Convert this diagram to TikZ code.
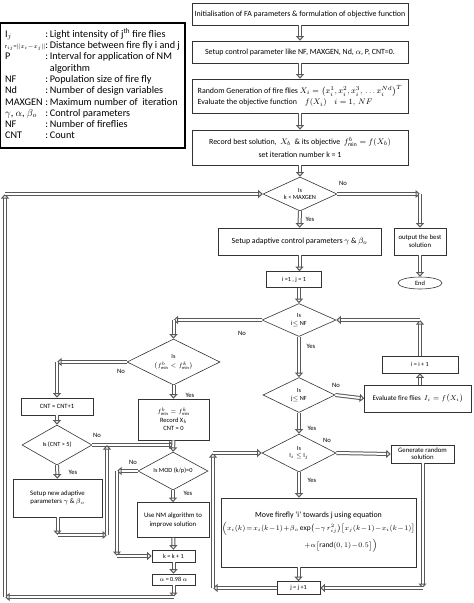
\documentclass[tikz,border=0pt]{standalone}
\usepackage{fontspec}
\setmainfont{Carlito}
\usepackage{amsmath}
\usetikzlibrary{arrows.meta,shapes.geometric,positioning}
\pgfdeclarelayer{edgelayer}
\pgfdeclarelayer{nodelayer}
\pgfsetlayers{nodelayer,main,edgelayer}

\tikzset{
	box/.style={draw=black!80, line width=0.6pt, inner sep=1pt, align=center, font=\fontsize{7.9}{9.2}\selectfont},
	smallbox/.style={box, font=\fontsize{6.2}{7}\selectfont},
	decision/.style={diamond, draw=black!80, line width=0.6pt, inner sep=0pt, align=center, font=\fontsize{6.3}{7.6}\selectfont},
	legend/.style={draw=black, line width=1.2pt, inner sep=2pt, font=\fontsize{10.2}{11.3}\selectfont},
	answer/.style={font=\fontsize{6.6}{7}\selectfont},
	flow/.style={draw=black!65, line width=1pt, double=white, double distance=2pt, -{Triangle[open, length=4.5pt, width=8pt]}}
}

\begin{document}
\begin{tikzpicture}[x=1pt, y=-1pt]
	\useasboundingbox (0,0) rectangle (474,603);
	% bends of the long connectors
	\coordinate (c1) at (420, 194);
	\coordinate (c2) at (173.5, 320);
	\coordinate (c3) at (420, 320);
	\coordinate (c4) at (422.5, 588);
	\coordinate (c5) at (213, 588);
	\coordinate (c6) at (213, 453);
	\coordinate (c7) at (57, 362);
	\coordinate (c8) at (173.5, 445);
	\coordinate (c9) at (57.5, 535);
	\coordinate (c10) at (107, 535);
	\coordinate (c11) at (107, 445);
	\coordinate (c12) at (117, 471);
	\coordinate (c13) at (117, 556);
	\coordinate (c14) at (173.5, 597);
	\coordinate (c15) at (5, 597);
	\coordinate (c16) at (5, 194);
	\begin{pgfonlayer}{nodelayer}
		\node [legend, minimum width=185pt, minimum height=125pt] (key) at (92.5, 85.5) {%
			\begin{tabular}{@{}l@{}l@{\,}l@{}}
				I$_j$ & : & Light intensity of j\textsuperscript{th} fire flies\\
				{\fontsize{6.2}{7}\selectfont\medmuskip=0mu\thickmuskip=0mu r$_{ij}$=$\lVert x_i-x_j\rVert$} & : & Distance between fire fly i and j\\
				P & : & Interval for application of NM\\
				  &   & algorithm\\
				NF & : & Population size of fire fly\\
				Nd & : & Number of design variables\\
				MAXGEN & : & Maximum number of\ \ iteration\\
				$\gamma$, $\alpha$, $\beta_o$ & : & Control parameters\\
				NF & : & Number of fireflies\\
				CNT & : & Count
			\end{tabular}};
		\node [box, minimum width=216pt, minimum height=22pt] (init) at (300, 14) {Initialisation of FA parameters \& formulation of objective function};
		\node [box, minimum width=216pt, minimum height=22pt] (ctrl) at (300, 52) {Setup control parameter like NF, MAXGEN, Nd, $\alpha$, P, CNT=0.};
		\node [box, align=left, minimum width=216pt, minimum height=34pt] (randgen) at (300, 96) {Random Generation of fire flies $X_i=\bigl(x_i^1,x_i^2,x_i^3,\,.\,.\,.\,x_i^{Nd}\bigr)^T$\\[2pt]Evaluate the objective function\quad $f(X_i)\quad i=1,\,NF$};
		\node [box, minimum width=216pt, minimum height=35pt] (record) at (300, 147.5) {Record best solution,\ \ $X_b$\ \ \& its objective\ \ $f^{b}_{\min}=f(X_b)$\\[4pt]set iteration number k = 1};
		\node [decision, aspect=2.2, minimum width=74pt, minimum height=34pt] (maxgen) at (300, 194) {Is\\k < MAXGEN};
		\node [box, minimum width=163pt, minimum height=27pt] (adapt) at (299.5, 241.5) {Setup adaptive control parameters $\gamma$\ \& $\beta_o$};
		\node [box, minimum width=52pt, minimum height=27pt, font=\fontsize{6.8}{8}\selectfont] (best) at (420, 241.5) {output the best\\solution};
		\node [ellipse, draw=black!80, line width=0.6pt, inner sep=0pt, minimum width=44pt, minimum height=12pt, font=\fontsize{6.5}{7}\selectfont] (endn) at (420, 283) {End};
		\node [smallbox, minimum width=55pt, minimum height=16pt] (ij) at (294, 279.5) {i =1 , j = 1};
		\node [decision, aspect=2.2, minimum width=74pt, minimum height=33pt] (inf) at (299, 320) {Is\\i$\leq$ NF};
		\node [decision, aspect=2.1, minimum width=72pt, minimum height=35pt] (jnf) at (299, 395) {Is\\j$\leq$ NF};
		\node [decision, aspect=2, minimum width=74pt, minimum height=38pt] (iij) at (299, 453) {Is\\I$_i\leq$ I$_j$};
		\node [smallbox, minimum width=76pt, minimum height=17pt] (iinc) at (420, 364.5) {i = i + 1};
		\node [box, minimum width=107pt, minimum height=27pt, font=\fontsize{7}{8}\selectfont] (evalf) at (418, 398.5) {Evaluate fire flies\ \ $I_i=f\bigl(X_i\bigr)$};
		\node [box, minimum width=63pt, minimum height=18pt, font=\fontsize{6.8}{7.2}\selectfont] (gen) at (422.5, 454) {Generate random\\solution};
		\node [box, minimum width=193pt, minimum height=69pt] (move) at (318.5, 532.5) {Move firefly ‘i’ towards j using equation\\[2pt]
			{\fontsize{7.4}{9}\selectfont\medmuskip=1mu\thickmuskip=2mu$\Bigl(x_i(k)=x_i(k-1)+\beta_o\exp\bigl(-\gamma\, r_{ij}^2\bigr)\bigl[x_j(k-1)-x_i(k-1)\bigr]$}\\[3pt]
			\hspace*{45pt}{\fontsize{7.4}{9}\selectfont\medmuskip=1mu$+\alpha\bigl[\mathrm{rand}(0,1)-0.5\bigr]\Bigr)$}};
		\node [smallbox, minimum width=43pt, minimum height=13pt] (jinc) at (298.5, 588) {j = j +1};
		\node [decision, aspect=2, minimum width=93pt, minimum height=46pt] (fcmp) at (173.5, 362) {Is\\[2pt]$\bigl(f^{b}_{\min}<f^{k}_{\min}\bigr)$};
		\node [box, minimum width=72pt, minimum height=17pt, font=\fontsize{6.5}{7.5}\selectfont] (cnt) at (57, 406.5) {CNT = CNT+1};
		\node [box, minimum width=71pt, minimum height=41pt, font=\fontsize{6.5}{8.5}\selectfont] (fbest) at (173.5, 419.5) {$f^{b}_{\min}=f^{k}_{\min}$\\Record X$_b$\\CNT = 0};
		\node [decision, aspect=1.75, minimum width=70pt, minimum height=40pt] (cnt5) at (57, 445) {Is (CNT > 5)};
		\node [box, minimum width=89pt, minimum height=38pt, font=\fontsize{6.8}{8.5}\selectfont] (newpar) at (57.5, 498) {Setup new adaptive\\parameters $\gamma$\ \& $\beta_o$};
		\node [decision, aspect=1.84, minimum width=70pt, minimum height=38pt] (mod) at (173, 471) {Is MOD (k/p)=0};
		\node [box, minimum width=72pt, minimum height=35pt, font=\fontsize{6.8}{8.5}\selectfont] (nm) at (173, 520) {Use NM algorithm to\\improve solution};
		\node [smallbox, minimum width=43pt, minimum height=12pt] (kinc) at (173.5, 556) {k = k + 1};
		\node [smallbox, minimum width=43pt, minimum height=11pt] (alpha) at (173.5, 579.5) {$\alpha$ = 0.98 $\alpha$};
		\node [answer] (no1) at (343, 183) {No};
		\node [answer] (yes1) at (310, 219) {Yes};
		\node [answer] (no2) at (242, 333) {No};
		\node [answer] (yes2) at (311, 346) {Yes};
		\node [answer] (no3) at (336, 385) {No};
		\node [answer] (yes3) at (312, 428) {Yes};
		\node [answer] (no4) at (327, 440) {No};
		\node [answer] (yes4) at (312, 480) {Yes};
		\node [answer] (no5) at (121, 371) {No};
		\node [answer] (yes5) at (190, 395) {Yes};
		\node [answer] (no6) at (97, 435) {No};
		\node [answer] (yes6) at (73, 472) {Yes};
		\node [answer] (no7) at (133, 462) {No};
		\node [answer] (yes7) at (188, 493) {Yes};
	\end{pgfonlayer}
	\begin{pgfonlayer}{edgelayer}
		\draw [flow] (init) to (ctrl);
		\draw [flow] (ctrl) to (randgen);
		\draw [flow] (randgen) to (record);
		\draw [flow] (record) to (maxgen);
		\draw [flow] (maxgen.east) to (c1);
		\draw [flow] (c1) to (best.north);
		\draw [flow] (best) to (endn);
		\draw [flow] (maxgen) to (adapt);
		\draw [flow] (adapt.south) to (adapt.south |- ij.north);
		\draw [flow] (ij.south -| inf.north) to (inf.north);
		\draw [flow] (inf.west) to (c2);
		\draw [flow] (c2) to (fcmp.north);
		\draw [flow] (inf) to (jnf);
		\draw [flow] (jnf.east) to (evalf.west);
		\draw [flow] (evalf.north -| iinc.south) to (iinc.south);
		\draw [flow] (iinc.north) to (c3);
		\draw [flow] (c3) to (inf.east);
		\draw [flow] (jnf) to (iij);
		\draw [flow] (iij.east) to (gen.west);
		\draw [flow] (gen.south) to (c4);
		\draw [flow] (c4) to (jinc.east);
		\draw [flow] (iij.south) to (iij.south |- move.north);
		\draw [flow] (move.south -| jinc.north) to (jinc.north);
		\draw [flow] (jinc.west) to (c5);
		\draw [flow] (c5) to (c6);
		\draw [flow] (c6) to (iij.west);
		\draw [flow] (fcmp.west) to (c7);
		\draw [flow] (c7) to (cnt.north);
		\draw [flow] (fcmp.south) to (fbest.north);
		\draw [flow] (cnt) to (cnt5);
		\draw [flow] (cnt5.east) to (c8);
		\draw [flow] (cnt5) to (newpar);
		\draw [flow] (newpar.south) to (c9);
		\draw [flow] (c9) to (c10);
		\draw [flow] (c10) to (c11);
		\draw [flow] (fbest) to (mod);
		\draw [flow] (mod.west) to (c12);
		\draw [flow] (c12) to (c13);
		\draw [flow] (c13) to (kinc.west);
		\draw [flow] (mod) to (nm);
		\draw [flow] (nm) to (kinc);
		\draw [flow] (kinc) to (alpha);
		\draw [flow] (alpha.south) to (c14);
		\draw [flow] (c14) to (c15);
		\draw [flow] (c15) to (c16);
		\draw [flow] (c16) to (maxgen.west);
	\end{pgfonlayer}
\end{tikzpicture}
\end{document}
